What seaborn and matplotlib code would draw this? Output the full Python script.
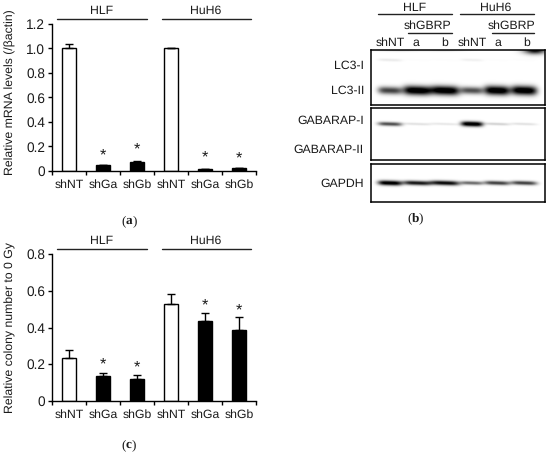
import numpy as np
import pandas as pd
import matplotlib
matplotlib.use("Agg")
import matplotlib.pyplot as plt
from matplotlib.lines import Line2D
import seaborn as sns

sns.set_style("white")
plt.rcParams['font.family'] = ['Liberation Sans', 'DejaVu Sans']
plt.rcParams['mathtext.fontset'] = 'custom'
plt.rcParams['mathtext.bf'] = 'Liberation Serif:bold'
plt.rcParams['mathtext.rm'] = 'Liberation Serif'
plt.rcParams['text.hinting'] = 'none'

# ---- data ----
categories = ["shNT", "shGa", "shGb", "shNT ", "shGa ", "shGb "]
tick_labels = ["shNT", "shGa", "shGb", "shNT", "shGa", "shGb"]
mrna_values = [1.0, 0.05, 0.075, 1.0, 0.015, 0.025]
mrna_errors = [0.035, 0.003, 0.01, 0.003, 0.002, 0.003]
mrna_stars = [None, 0.125, 0.175, None, 0.115, 0.10]
colony_values = [0.235, 0.135, 0.12, 0.53, 0.435, 0.385]
colony_errors = [0.04, 0.02, 0.02, 0.05, 0.045, 0.07]
colony_stars = [None, 0.2, 0.185, None, 0.52, 0.495]
bar_colors = ["white", "black", "black", "white", "black", "black"]

# blot band intensities per lane
lane_x = [390, 417, 445, 472, 497, 524]
lane_w = [12, 14, 15, 11, 13, 13]
lc3_i = [0.07, 0.01, 0.01, 0.05, 0.01, 0.01]
lc3_ii = [0.65, 1.0, 1.0, 0.6, 1.0, 1.0]
gabarap_i = [0.6, 0.1, 0.08, 1.0, 0.15, 0.1]
gapdh = [0.95, 0.8, 0.85, 0.5, 0.65, 0.65]

W, H = 550, 454
fig = plt.figure(figsize=(5.5, 4.54), dpi=100)
FS = 8.8


def px_axes(x0, y0, x1, y1):
    return fig.add_axes([x0 / W, 1 - y1 / H, (x1 - x0) / W, (y1 - y0) / H])


def ftext(x, y, s, **kw):
    kw.setdefault("ha", "center")
    kw.setdefault("va", "center")
    kw.setdefault("fontsize", FS)
    kw.setdefault("color", "#1a1a1a")
    fig.text(x / W, 1 - y / H, s, **kw)


def fline(x0, x1, y, lw=1.0):
    fig.add_artist(Line2D([x0 / W, x1 / W], [1 - y / H, 1 - y / H], color="#222222", lw=lw))


def bar_panel(box, values, errors, stars, ymax, yticks, ylabels, ylabel, ylab_y, line_y):
    ax = px_axes(*box)
    df = pd.DataFrame({"cat": categories, "val": values})
    sns.barplot(data=df, x="cat", y="val", hue="cat", palette=bar_colors, legend=False,
                width=0.43, edgecolor="black", linewidth=1.0, errorbar=None, ax=ax)
    ax.errorbar(range(6), values, yerr=[np.zeros(6), errors], fmt="none", ecolor="black",
                elinewidth=1.0, capsize=2.6, capthick=1.0, zorder=1)
    for i, s in enumerate(stars):
        if s is not None:
            ax.text(i, s, "*", ha="center", va="center", fontsize=FS + 3, color="#1a1a1a")
    ax.set_xlim(-0.5, 5.5)
    ax.set_ylim(0, ymax)
    ax.set_yticks(yticks, ylabels, fontsize=FS + 1, color="#1a1a1a")
    ax.set_xticks(range(6), tick_labels, fontsize=FS, color="#1a1a1a")
    ax.set_xticks(np.arange(-0.5, 6, 1), minor=True)
    ax.tick_params(axis="x", which="major", length=0, pad=6)
    ax.tick_params(axis="x", which="minor", length=3, width=1, bottom=True, color="black")
    ax.tick_params(axis="y", length=3, width=1, left=True, pad=2, color="black")
    ax.set_xlabel("")
    ax.set_ylabel("")
    ax.patch.set_alpha(0)
    for sp in ("top", "right"):
        ax.spines[sp].set_visible(False)
    for sp in ("left", "bottom"):
        ax.spines[sp].set_color("black")
        ax.spines[sp].set_linewidth(1)
    ftext(10, ylab_y, ylabel, rotation=90, fontsize=FS)
    fline(57, 147, line_y)
    fline(162, 251, line_y)
    ftext(102, line_y - 8, "HLF", fontsize=FS)
    ftext(206, line_y - 8, "HuH6", fontsize=FS)
    return ax


bar_panel((52, 24, 256, 171), mrna_values, mrna_errors, mrna_stars, 1.2,
          [0, 0.2, 0.4, 0.6, 0.8, 1.0, 1.2], ["0", "0.2", "0.4", "0.6", "0.8", "1.0", "1.2"],
          "Relative mRNA levels (/βactin)", 92, 19)
bar_panel((52, 254, 256, 401), colony_values, colony_errors, colony_stars, 0.8,
          [0, 0.2, 0.4, 0.6, 0.8], ["0", "0.2", "0.4", "0.6", "0.8"],
          "Relative colony number to 0 Gy", 328, 249)


def blot(y0, y1, rows, smear=None):
    """rows: list of (band centre y in px, band half-height, lane intensities)"""
    xs = np.arange(371, 545) + 0.5
    ys = np.arange(y0, y1) + 0.5
    X, Y = np.meshgrid(xs, ys)
    field = np.zeros_like(X)
    for yc, hh, vals in rows:
        for lx, lw, v in zip(lane_x, lane_w, vals):
            tilt = 0.03 * (X - lx)
            field += v * np.exp(-np.abs((X - lx) / lw) ** 4) * np.exp(-((Y - yc - tilt) / (hh * (0.55 + 0.6 * v))) ** 2)
    if smear:
        for sx, sy, sw, sh, v in smear:
            field += v * np.exp(-((X - sx) / sw) ** 2) * np.exp(-((Y - sy) / sh) ** 2)
    field = np.clip(field * 1.15, 0, 1)
    ax = px_axes(371, y0, 545, y1)
    sns.heatmap(field, cmap="gray_r", vmin=0, vmax=1, cbar=False, xticklabels=False,
                yticklabels=False, ax=ax)
    for sp in ax.spines.values():
        sp.set_visible(True)
        sp.set_color("black")
        sp.set_linewidth(1.1)
    return ax


blot(50, 105, [(60, 2.5, lc3_i), (90.5, 4.0, lc3_ii)],
     smear=[(535, 50, 11, 4, 0.9), (400, 49, 25, 2, 0.3), (445, 49, 20, 2, 0.25)])
blot(108, 160, [(124, 2.2, gabarap_i)])
blot(164, 202, [(183, 2.2, gapdh)])

# panel b labels
fline(378, 452, 14)
fline(460, 534, 14)
ftext(415, 8, "HLF")
ftext(496, 8, "HuH6")
ftext(427, 26, "shGBRP")
ftext(511, 26, "shGBRP")
fline(408, 452, 33)
fline(492, 534, 33)
lane_labels = ["shNT", "a", "b", "shNT", "a", "b"]
for x, s in zip([390, 416, 445, 472, 498, 527], lane_labels):
    ftext(x, 43, s)
row_names = ["LC3-I", "LC3-II", "GABARAP-I", "GABARAP-II", "GAPDH"]
for y, s in zip([66, 91, 121, 150, 184], row_names):
    ftext(364, y, s, ha="right")

# captions
for x, y, s in [(129, 221, "a"), (416, 218, "b"), (129, 445, "c")]:
    ftext(x, y, "($\\mathbf{%s}$)" % s, family="Liberation Serif", fontsize=9.5)

fig.savefig("out.png", dpi=100, facecolor="white")
